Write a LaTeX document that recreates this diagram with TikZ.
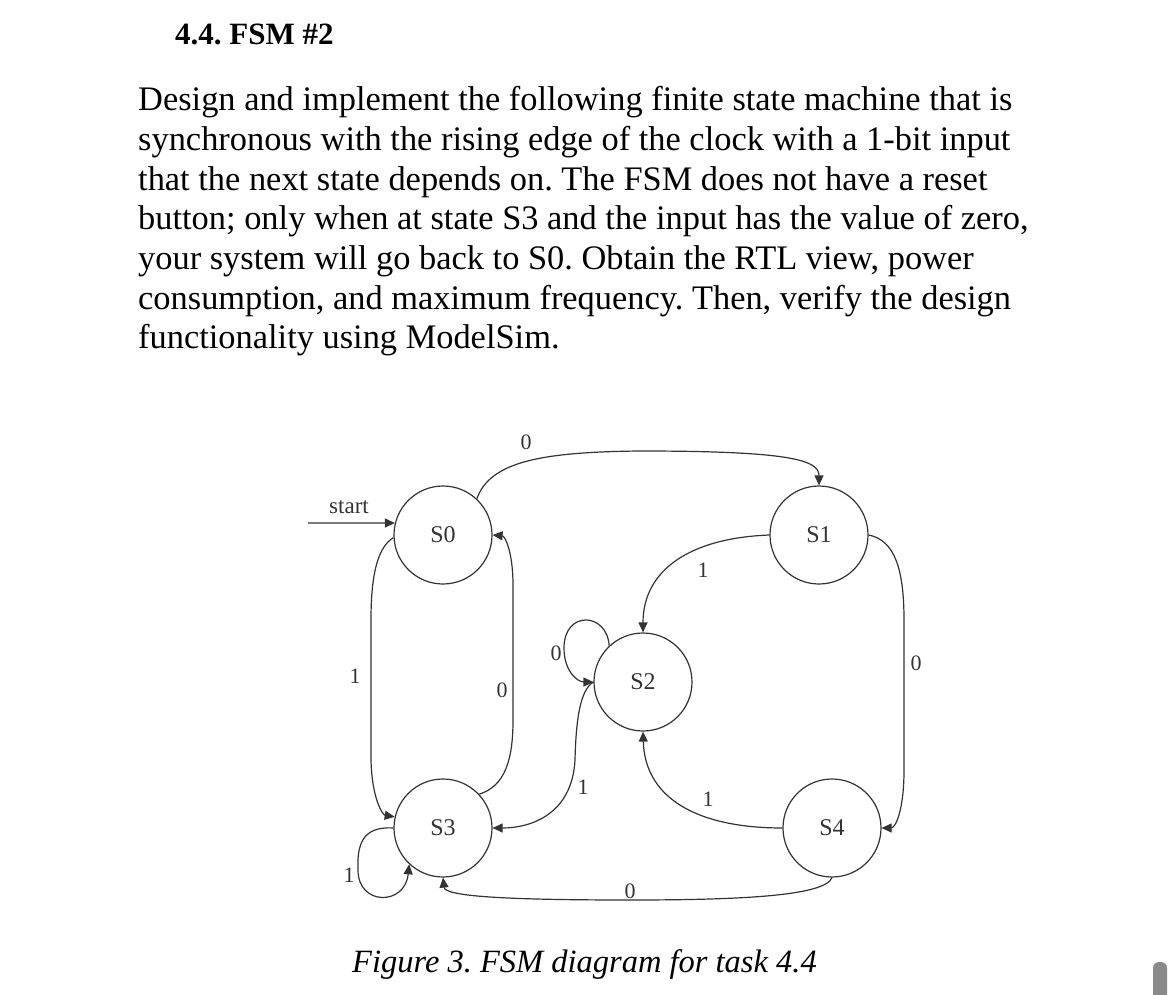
\documentclass[tikz,border=0pt]{standalone}
\usepackage{fontspec}
\setmainfont{Liberation Serif}
\usetikzlibrary{arrows.meta}
\frenchspacing
\definecolor{ink}{HTML}{333333}
\definecolor{barg}{HTML}{8A8A8A}
\tikzset{
  state/.style={circle, draw=ink, line width=1.2pt, minimum size=98pt, inner sep=0pt, text=ink, font=\fontsize{24}{26}\selectfont},
  edge/.style={draw=ink, line width=1.2pt, -{Triangle[length=10pt,width=9pt]}},
  lbl/.style={text=ink, font=\fontsize{22}{24}\selectfont, inner sep=0pt},
  body/.style={anchor=base west, inner sep=0pt, font=\fontsize{34.4}{40}\selectfont},
}
\begin{document}
\begin{tikzpicture}[x=1pt,y=-1pt]
\useasboundingbox (0,0) rectangle (1170,995);
% heading and text
\node[anchor=base west, inner sep=0pt, font=\fontsize{31}{36}\selectfont\bfseries] (title) at (175,45) {4.4. FSM \#2};
\node[body] (l1) at (138,111) {Design and implement the following finite state machine that is};
\node[body] (l2) at (138,150.6) {synchronous with the rising edge of the clock with a 1-bit input};
\node[body] (l3) at (138,190.2) {that the next state depends on. The FSM does not have a reset};
\node[body] (l4) at (138,229.8) {button; only when at state S3 and the input has the value of zero,};
\node[body] (l5) at (138,269.4) {your system will go back to S0. Obtain the RTL view, power};
\node[body] (l6) at (138,309) {consumption, and maximum frequency. Then, verify the design};
\node[body] (l7) at (138,348.6) {functionality using ModelSim.};
% states
\node[state] (S0) at (443,535) {S0};
\node[state] (S1) at (819,535) {S1};
\node[state] (S2) at (643,682) {S2};
\node[state] (S3) at (443,828) {S3};
\node[state] (S4) at (832,828) {S4};
% start
\coordinate (st) at (308,523);
\draw[edge] (st) -- (S0.166);
\node[lbl, font=\fontsize{23}{26}\selectfont] (stl) at (349,507) {start};
% S0 -> S1
\draw[edge] (S0.47) .. controls (490,462) and (540,452) .. (640,451)
  .. controls (790,451) and (819,460) .. (S1.north);
\node[lbl] (a01) at (526,442) {0};
% S1 -> S2
\draw[edge] (S1.west) .. controls (690,538) and (643,570) .. (S2.north);
\node[lbl] (a12) at (703,570) {1};
% S1 -> S4
\draw[edge] (S1.east) .. controls (895,540) and (904,570) .. (904,620)
  -- (904,770) .. controls (904,812) and (895,828) .. (S4.east);
\node[lbl] (a14) at (916,663) {0};
% S0 -> S3
\draw[edge] (S0.183) .. controls (376,548) and (371,580) .. (371,620)
  -- (371,760) .. controls (372,800) and (383,815) .. (S3.167);
\node[lbl] (a03) at (355,676) {1};
% S3 -> S0
\draw[edge] (S3.43) .. controls (505,786) and (513,760) .. (513,720)
  -- (513,585) .. controls (513,552) and (505,536) .. (S0.east);
\node[lbl] (a30) at (502,690) {0};
% S2 self loop
\draw[edge] (S2.133) .. controls (607,612) and (564,610) .. (564,648)
  .. controls (564,672) and (578,682) .. (S2.west);
\node[lbl] (a22) at (556,653) {0};
% S2 -> S3
\draw[edge] (S2.west) .. controls (580,690) and (576,720) .. (575,760)
  .. controls (572,815) and (530,828) .. (S3.east);
\node[lbl] (a23) at (583,787) {1};
% S4 -> S2
\draw[edge] (S4.west) .. controls (700,828) and (645,800) .. (S2.south);
\node[lbl] (a42) at (708,799) {1};
% S4 -> S3
\draw[edge] (S4.south) .. controls (825,896) and (740,900) .. (630,900)
  .. controls (500,900) and (445,896) .. (S3.south);
\node[lbl] (a43) at (630,891) {0};
% S3 self loop
\draw[edge] (S3.west) .. controls (362,826) and (357,845) .. (358,870)
  .. controls (358,906) and (405,906) .. (S3.227);
\node[lbl] (a33) at (349,875) {1};
% caption
\node[anchor=base west, inner sep=0pt, font=\fontsize{32.5}{36}\selectfont\itshape] (cap) at (352,972) {Figure 3. FSM diagram for task 4.4};
% side bar
\fill[barg, rounded corners=6pt] (1153,962) rectangle (1167,1005);
\end{tikzpicture}
\end{document}
